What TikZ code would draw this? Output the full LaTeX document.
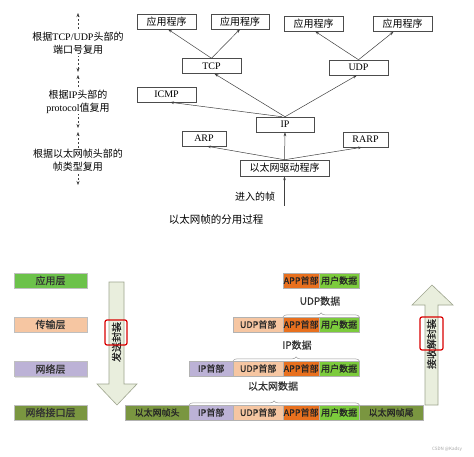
\documentclass[tikz,border=0pt]{standalone}
\usepackage{fontspec}
\setmainfont{Liberation Serif}
\newfontfamily\cjk{Noto Sans CJK SC}
\newfontfamily\cjkb{Noto Sans CJK SC}[FakeBold=0.8]
\usetikzlibrary{arrows.meta,decorations.pathreplacing,shadows,calc}
\definecolor{layapp}{HTML}{6CC24A}
\definecolor{laytr}{HTML}{F6C6A2}
\definecolor{laynet}{HTML}{BCB2D6}
\definecolor{laylink}{HTML}{7A9640}
\definecolor{apporg}{HTML}{E8701E}
\definecolor{datag}{HTML}{7CCB3C}
\definecolor{bigfill}{HTML}{E9EEDD}
\definecolor{bigdraw}{HTML}{9EA58E}
\begin{document}
\begin{tikzpicture}[x=1pt,y=-1pt,
  pbox/.style={draw=black!70, line width=0.5pt, fill=white, inner sep=0pt, minimum height=15pt, font=\fontsize{10}{12}\selectfont},
  arr/.style={-{Stealth[length=4pt,width=2.6pt]}, line width=0.5pt, draw=black!75},
  dasharr/.style={{Stealth[length=4pt,width=3pt]}-{Stealth[length=4pt,width=3pt]}, dash pattern=on 2pt off 2pt, line width=0.5pt, draw=black!75},
  lbl/.style={fill=white, align=center, inner sep=1pt, font=\fontsize{10}{13}\selectfont},
  layer/.style={minimum width=73pt, minimum height=15pt, inner sep=0pt, font=\cjkb\fontsize{10}{12}\selectfont, text=black!80, draw=black!25, line width=0.4pt, drop shadow={shadow xshift=1pt, shadow yshift=-1pt, opacity=0.25}},
  seg/.style={minimum height=15pt, inner sep=0pt, anchor=west, font=\cjkb\fontsize{9}{10}\selectfont, text=black!85, draw=white!70!black, line width=0.3pt},
  brc/.style={decorate, decoration={brace, amplitude=4pt}, draw=black!40, line width=0.5pt},
  bigarr/.style={fill=bigfill, draw=bigdraw, line width=0.6pt},
  redbox/.style={draw=red!85!black, line width=1.2pt, rounded corners=2pt},
  midtxt/.style={font=\cjkb\fontsize{10}{12}\selectfont, text=black!80}
]
\useasboundingbox (0,0) rectangle (474,457);
\fill[white] (0,0) rectangle (474,457);

% ---------- upper diagram ----------
\node[pbox, minimum width=59pt] (app1) at (166.5,21.5) {\cjk 应用程序};
\node[pbox, minimum width=58pt] (app2) at (240,21.5) {\cjk 应用程序};
\node[pbox, minimum width=59pt] (app3) at (313.5,23.5) {\cjk 应用程序};
\node[pbox, minimum width=59pt] (app4) at (402.5,24) {\cjk 应用程序};
\node[pbox, minimum width=59pt] (tcp) at (211.5,66) {TCP};
\node[pbox, minimum width=59pt] (udp) at (358.5,67.5) {UDP};
\node[pbox, minimum width=59pt] (icmp) at (166.5,94.5) {ICMP};
\node[pbox, minimum width=58pt] (ip) at (285,124.5) {IP};
\node[pbox, minimum width=44pt] (arp) at (204,138.5) {ARP};
\node[pbox, minimum width=45pt] (rarp) at (365.5,139.5) {RARP};
\node[pbox, minimum width=89pt, minimum height=16pt] (drv) at (284.5,168) {\cjk 以太网驱动程序};
\node[font=\cjk\fontsize{10}{12}\selectfont] (frm) at (255,197) {进入的帧};
\coordinate (fin) at (284.5,206);
\node[font=\cjk\fontsize{10.5}{12}\selectfont] (cap) at (216,220) {以太网帧的分用过程};

\draw[arr] (tcp.north) -- ([xshift=1.5pt]app1.south);
\draw[arr] (tcp.north) -- (app2.south);
\draw[arr] (udp.north) -- ([xshift=1.5pt]app3.south);
\draw[arr] (udp.north) -- ([xshift=-9pt]app4.south);
\draw[arr] (ip.north) -- ([xshift=3pt]tcp.south);
\draw[arr] (ip.north) -- ([xshift=-1.5pt]udp.south);
\draw[arr] ([xshift=-3pt]ip.north) -- ([xshift=3.5pt]icmp.south);
\draw[arr] (drv.north) -- ([xshift=3pt]arp.south);
\draw[arr] (drv.north) -- (ip.south);
\draw[arr] (drv.north) -- ([xshift=-3.5pt]rarp.south);
\draw[arr] (fin) -- (drv.south);

% left side labels
\coordinate (d1a) at (78,13); \coordinate (d1b) at (78,72);
\coordinate (d2a) at (78,75); \coordinate (d2b) at (78,128);
\coordinate (d3a) at (78,132); \coordinate (d3b) at (78,185);
\draw[dasharr] (d1a) -- (d1b);
\draw[dasharr] (d2a) -- (d2b);
\draw[dasharr] (d3a) -- (d3b);
\node[lbl] (l1) at (78,43.5) {{\cjk 根据}TCP/UDP{\cjk 头部的}\\{\cjk 端口号复用}};
\node[lbl] (l2) at (78,101.5) {{\cjk 根据}IP{\cjk 头部的}\\protocol{\cjk 值复用}};
\node[lbl] (l3) at (78,160) {{\cjk 根据以太网帧头部的}\\{\cjk 帧类型复用}};

% ---------- lower diagram ----------
\node[layer, fill=layapp] (lapp) at (50.5,280.5) {应用层};
\node[layer, fill=laytr] (ltr) at (50.5,324.5) {传输层};
\node[layer, fill=laynet] (lnet) at (50.5,369) {网络层};
\node[layer, fill=laylink] (llink) at (50.5,412.5) {网络接口层};

% send arrow
\draw[bigarr] (109,282) -- (124,282) -- (124,384) -- (137,384) -- (117,405) -- (97,384) -- (109,384) -- cycle;
\node[rotate=90, inner sep=0pt, font=\cjkb\fontsize{10}{12}\selectfont, text=black!85] (send) at (116.5,342) {发送封装};
\draw[redbox] (105,320) rectangle (127,345);

% receive arrow
\draw[bigarr] (425,405) -- (438,405) -- (438,305) -- (453,305) -- (432,285) -- (412,305) -- (425,305) -- cycle;
\node[rotate=90, inner sep=0pt, font=\cjkb\fontsize{10}{12}\selectfont, text=black!85] (recv) at (431.5,344) {接收解封装};
\draw[redbox] (420,317) rectangle (443,350);

% row 1
\node[seg, fill=apporg, minimum width=36pt] (r1a) at (283,280.5) {APP首部};
\node[seg, fill=datag, minimum width=40pt] (r1d) at (319,280.5) {用户数据};
% row 2
\node[seg, fill=laytr, minimum width=50pt] (r2u) at (233,324.5) {UDP首部};
\node[seg, fill=apporg, minimum width=36pt] (r2a) at (283,324.5) {APP首部};
\node[seg, fill=datag, minimum width=40pt] (r2d) at (319,324.5) {用户数据};
% row 3
\node[seg, fill=laynet, minimum width=44pt] (r3i) at (189,368.5) {IP首部};
\node[seg, fill=laytr, minimum width=50pt] (r3u) at (233,368.5) {UDP首部};
\node[seg, fill=apporg, minimum width=36pt] (r3a) at (283,368.5) {APP首部};
\node[seg, fill=datag, minimum width=40pt] (r3d) at (319,368.5) {用户数据};
% row 4
\node[seg, fill=laylink, minimum width=64pt] (r4e) at (125,412.5) {以太网帧头};
\node[seg, fill=laynet, minimum width=44pt] (r4i) at (189,412.5) {IP首部};
\node[seg, fill=laytr, minimum width=50pt] (r4u) at (233,412.5) {UDP首部};
\node[seg, fill=apporg, minimum width=36pt] (r4a) at (283,412.5) {APP首部};
\node[seg, fill=datag, minimum width=40pt] (r4d) at (319,412.5) {用户数据};
\node[seg, fill=laylink, minimum width=64pt] (r4t) at (359,412.5) {以太网帧尾};

% braces and labels
\draw[brc] (r2a.north west) -- (r2d.north east);
\draw[brc] (r3u.north west) -- (r3d.north east);
\draw[brc] (r4i.north west) -- (r4d.north east);
\node[midtxt] (t1) at (320,301) {UDP数据};
\node[midtxt] (t2) at (297,345) {IP数据};
\node[midtxt] (t3) at (273,386) {以太网数据};

\node[font=\cjk\fontsize{4.5}{5}\selectfont, text=black!35] (wm) at (447,449) {CSDN @Kadsy};
\end{tikzpicture}
\end{document}
